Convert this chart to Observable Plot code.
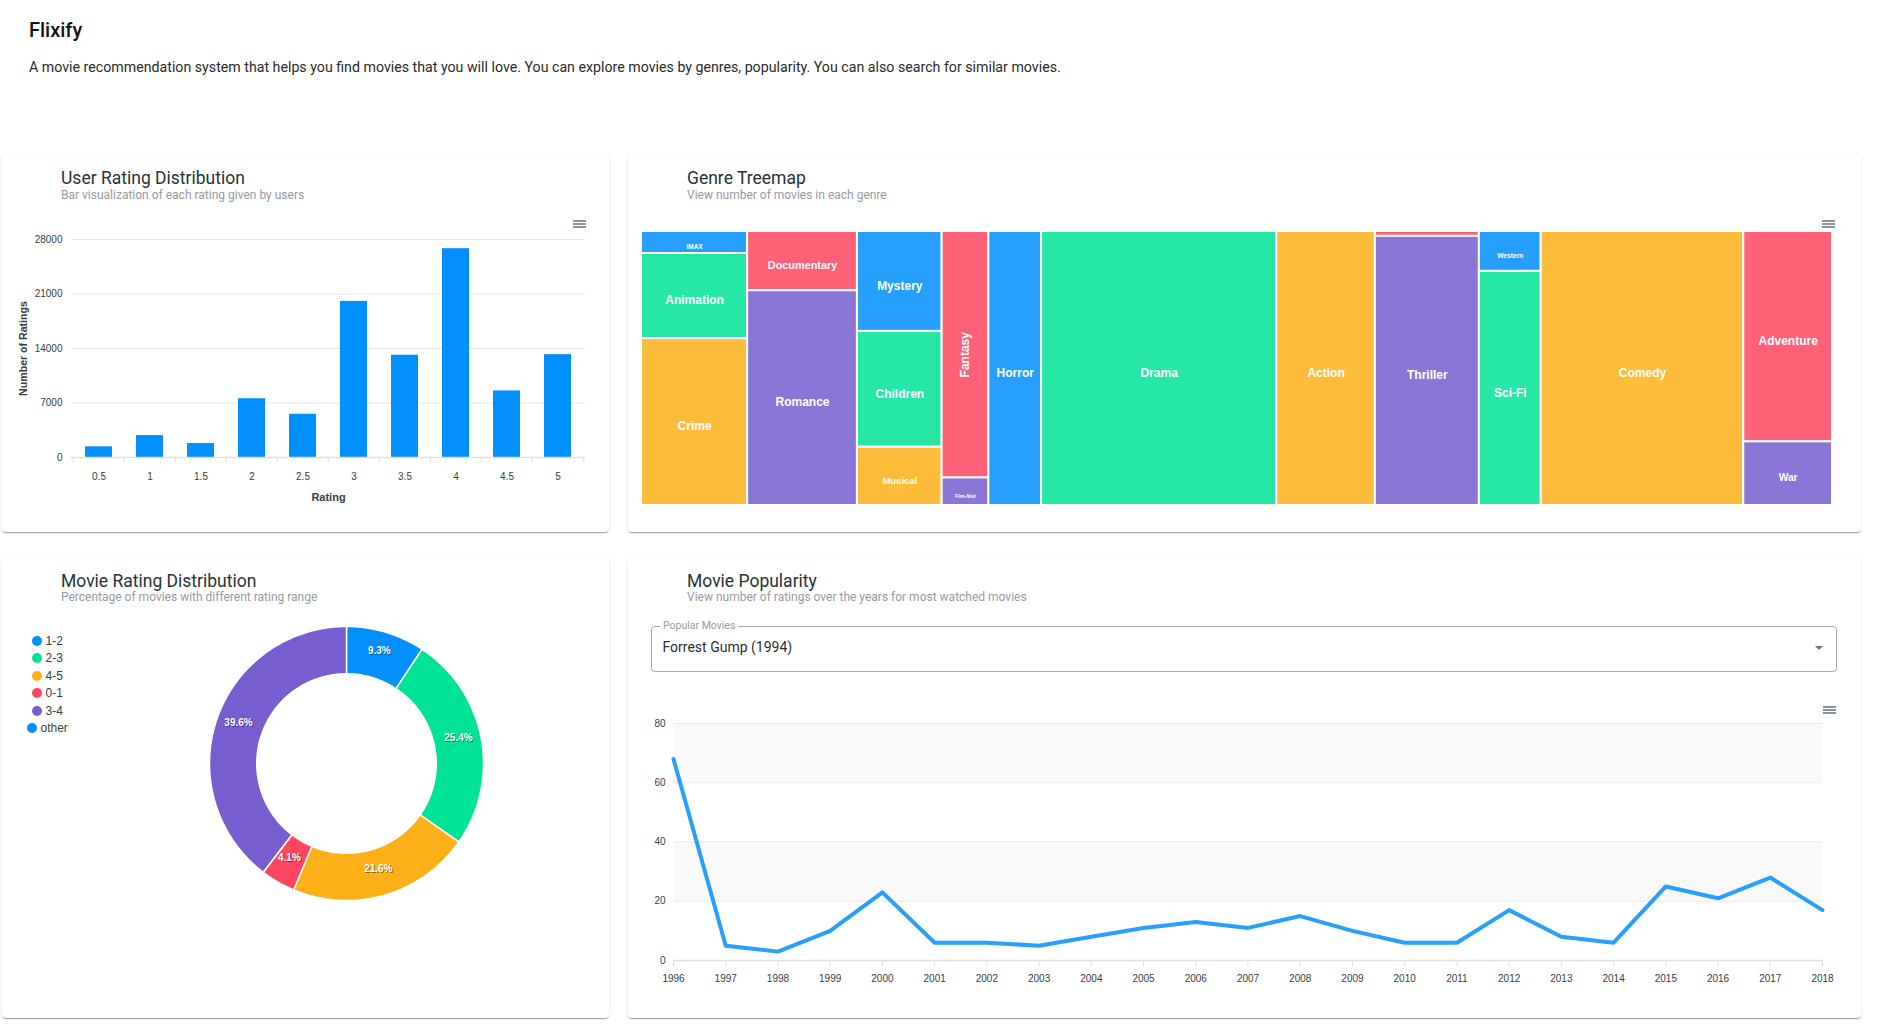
<!DOCTYPE html>
<html>
<head>
<meta charset="utf-8">
<script src="https://cdn.jsdelivr.net/npm/d3@7"></script>
<script src="https://cdn.jsdelivr.net/npm/@observablehq/plot@0.6"></script>
<style>
  html, body { margin: 0; padding: 0; background: #fff; }
  body { width: 1878px; height: 1033px; position: relative; overflow: hidden; font-family: Roboto, "Noto Sans", sans-serif; }
  .abs { position: absolute; white-space: nowrap; }
  .card { position: absolute; background: #fff; border-radius: 4px;
          box-shadow: 0px 2px 1px -1px rgba(0,0,0,0.2), 0px 1px 1px 0px rgba(0,0,0,0.14), 0px 1px 3px 0px rgba(0,0,0,0.12); }
  .h1 { font-size: 20px; font-weight: 500; color: #111; line-height: 24px; }
  .desc { font-size: 14.2px; color: #2a2a2a; line-height: 16px; }
  .ctitle { font-size: 17.5px; color: #263238; line-height: 20px; font-weight: 400; }
  .csub { font-size: 12px; color: #9699a2; line-height: 14px; }
  .menu { position: absolute; width: 13px; }
  .menu div { height: 1.6px; background: #8795a4; margin-bottom: 1.6px; }
  .legend-item { position: absolute; font-family: "Liberation Sans", Arial, Helvetica, sans-serif; font-size: 12px; color: #373d3f; line-height: 14px; }
  .legend-dot { position: absolute; width: 10px; height: 10px; border-radius: 50%; }
</style>
</head>
<body>
<script>
// ---------------- DATA ----------------
const ratingLabels = ["0.5", "1", "1.5", "2", "2.5", "3", "3.5", "4", "4.5", "5"];
const ratingCounts = [1370, 2811, 1791, 7551, 5550, 20047, 13136, 26818, 8551, 13211];
const ratingTicks = [0, 7000, 14000, 21000, 28000];

const genreNames = ["IMAX", "Animation", "Crime", "Documentary", "Romance", "Mystery", "Children", "Musical",
  "Fantasy", "Film-Noir", "Horror", "Drama", "Action", "(no genres listed)", "Thriller", "Western", "Sci-Fi",
  "Comedy", "Adventure", "War"];
const genreCounts = [158, 611, 1199, 440, 1596, 573, 664, 334, 779, 87, 978, 4361, 1828, 34, 1894, 167, 980, 3756, 1263, 382];
const genreColumn = [0, 0, 0, 1, 1, 2, 2, 2, 3, 3, 4, 5, 6, 7, 7, 8, 8, 9, 10, 10];

const ratingRanges = ["1-2", "2-3", "4-5", "0-1", "3-4", "other"];
const rangePercents = [9.3, 25.4, 21.6, 4.1, 39.6, 0];

const years = [1996, 1997, 1998, 1999, 2000, 2001, 2002, 2003, 2004, 2005, 2006, 2007, 2008, 2009, 2010, 2011,
  2012, 2013, 2014, 2015, 2016, 2017, 2018];
const yearRatings = [68, 5, 3, 10, 23, 6, 6, 5, 8, 11, 13, 11, 15, 10, 6, 6, 17, 8, 6, 25, 21, 28, 17];
const popularityTicks = [0, 20, 40, 60, 80];

const basePalette = ["#008FFB", "#00E396", "#FEB019", "#FF4560", "#775DD0"];
const treePalette = ["#26a0fc", "#26e7a6", "#febc3b", "#ff6178", "#8b75d7"];

// ---------------- HELPERS ----------------
const chartFont = '"Liberation Sans", Arial, Helvetica, sans-serif';
function el(tag, cls, x, y, text) {
  const e = document.createElement(tag);
  if (cls) e.className = cls;
  e.style.left = x + "px"; e.style.top = y + "px";
  if (text != null) e.textContent = text;
  document.body.appendChild(e);
  return e;
}
function card(x, y, w, h) {
  const c = el("div", "card", x, y);
  c.style.width = w + "px"; c.style.height = h + "px";
  return c;
}
function placeSvg(svg, x, y) {
  svg.style.position = "absolute";
  svg.style.left = x + "px"; svg.style.top = y + "px";
  document.body.appendChild(svg);
}
function menu(x, y) {
  const m = el("div", "menu", x, y);
  for (let k = 0; k < 3; k++) m.appendChild(document.createElement("div"));
}
const ctx = document.createElement("canvas").getContext("2d");
function textWidth(t, fs) { ctx.font = `bold ${fs}px ${chartFont}`; return ctx.measureText(t).width; }

// ---------------- PAGE TEXT + CARDS ----------------
el("div", "abs h1", 29, 17.5, "Flixify");
el("div", "abs desc", 29, 59, "A movie recommendation system that helps you find movies that you will love. You can explore movies by genres, popularity. You can also search for similar movies.");

card(2, 154, 607, 378);
card(628, 154, 1233, 378);
card(2, 558, 607, 460);
card(628, 558, 1233, 460);

el("div", "abs ctitle", 61, 168, "User Rating Distribution");
el("div", "abs csub", 61, 187.6, "Bar visualization of each rating given by users");
el("div", "abs ctitle", 687, 168, "Genre Treemap");
el("div", "abs csub", 687, 187.6, "View number of movies in each genre");
el("div", "abs ctitle", 61, 571, "Movie Rating Distribution");
el("div", "abs csub", 61, 589.6, "Percentage of movies with different rating range");
el("div", "abs ctitle", 687, 571, "Movie Popularity");
el("div", "abs csub", 687, 589.6, "View number of ratings over the years for most watched movies");

menu(573, 220);
menu(1822, 220);
menu(1823, 706);

// ---------------- BAR CHART ----------------
{
  const W = 607, H = 378, ml = 69, mr = 24, mt = 85, mb = 75;
  const step = (W - ml - mr) / ratingLabels.length;
  const data = ratingLabels.map((r, i) => ({rating: r, count: ratingCounts[i]}));
  const svg = Plot.plot({
    width: W, height: H, marginLeft: ml, marginRight: mr, marginTop: mt, marginBottom: mb,
    style: {background: "transparent", fontFamily: chartFont, fontSize: "10px", color: "#373d3f", overflow: "visible"},
    x: {type: "band", domain: ratingLabels, paddingInner: 0.475, paddingOuter: 0.2375, label: null},
    y: {domain: [0, ratingTicks[ratingTicks.length - 1]], label: null},
    marks: [
      Plot.ruleY(ratingTicks.slice(1), {stroke: "#e6e6e6"}),
      Plot.barY(data, {x: "rating", y: "count", fill: "#008FFB"}),
      Plot.ruleY([0], {stroke: "#e0e0e0", strokeWidth: 1.5}),
      Plot.ruleX(ratingLabels, {x: d => d, dx: -step / 2, insetTop: H - mt - mb, insetBottom: -6, stroke: "#e0e0e0"}),
      Plot.ruleX(ratingLabels.slice(-1), {x: d => d, dx: step / 2, insetTop: H - mt - mb, insetBottom: -6, stroke: "#e0e0e0"}),
      Plot.axisX({tickSize: 0, tickPadding: 15.5, label: null, fill: "#373d3f"}),
      Plot.axisY({ticks: ratingTicks, tickFormat: d => String(d), tickSize: 0, tickPadding: 9, label: null, fill: "#373d3f"}),
      Plot.text(["Rating"], {frameAnchor: "bottom", dy: 43, fontWeight: "bold", fontSize: 11, fill: "#373d3f"}),
      Plot.text(["Number of Ratings"], {frameAnchor: "left", textAnchor: "middle", dx: -48, rotate: -90, fontWeight: "bold", fontSize: 10.6, fill: "#373d3f"})
    ]
  });
  placeSvg(svg, 2, 154);
}

// ---------------- TREEMAP ----------------
{
  const W = 1233, H = 378, ml = 13, mr = 29, mt = 77, mb = 27;
  const TW = W - ml - mr, TH = H - mt - mb;
  const nCols = d3.max(genreColumn) + 1;
  const tree = {children: d3.range(nCols).map(c => ({
    children: genreNames.map((g, i) => ({i})).filter(d => genreColumn[d.i] === c)
  }))};
  const root = d3.hierarchy(tree).sum(d => d.i === undefined ? 0 : genreCounts[d.i]);
  d3.treemap().tile(d3.treemapSliceDice).size([TW, TH])(root);
  const avgLen = d3.mean(genreNames, g => g.length);
  const cells = root.leaves().map(n => {
    const i = n.data.i, w = n.x1 - n.x0, h = n.y1 - n.y0;
    const fs = Math.min(12, Math.sqrt(w * h) / avgLen);
    const tw = textWidth(genreNames[i], fs);
    const rot = (tw + 7 > w && tw <= h) ? -90 : 0;
    return {name: genreNames[i], x0: n.x0, x1: n.x1, y0: n.y0, y1: n.y1, color: treePalette[i % 5], fs, rot};
  });
  const shown = cells.filter(c => c.fs >= 4);
  const labelOpts = {
    x: d => (d.x0 + d.x1) / 2, y: d => (d.y0 + d.y1) / 2, text: "name",
    fill: "#fff", fontSize: d => d.fs, rotate: d => d.rot, fontWeight: "bold"
  };
  const svg = Plot.plot({
    width: W, height: H, marginLeft: ml, marginRight: mr, marginTop: mt, marginBottom: mb,
    style: {background: "transparent", fontFamily: chartFont, overflow: "visible"},
    x: {domain: [0, TW], axis: null},
    y: {domain: [0, TH], reverse: true, axis: null},
    color: {type: "identity"},
    marks: [
      Plot.rect(cells, {x1: "x0", x2: "x1", y1: "y0", y2: "y1", fill: d => d.color, stroke: "#fff", strokeWidth: 2}),
      Plot.text(shown.filter(c => c.rot === 0), {...labelOpts, dy: 4.5}),
      Plot.text(shown.filter(c => c.rot !== 0), labelOpts)
    ]
  });
  placeSvg(svg, 628, 154);
}

// ---------------- DONUT ----------------
{
  const W = 607, H = 460, ml = 207, mr = 126, mt = 68, mb = 118;
  const inner = 0.655;
  const arcs = d3.pie().sort(null).value(d => d)(rangePercents);
  const marks = [];
  arcs.forEach((a, i) => {
    if (a.endAngle - a.startAngle <= 0) return;
    const n = Math.max(2, Math.ceil((a.endAngle - a.startAngle) / (Math.PI / 180)));
    const pts = [];
    for (let k = 0; k <= n; k++) { const t = a.startAngle + (a.endAngle - a.startAngle) * k / n; pts.push([Math.sin(t), Math.cos(t)]); }
    for (let k = n; k >= 0; k--) { const t = a.startAngle + (a.endAngle - a.startAngle) * k / n; pts.push([inner * Math.sin(t), inner * Math.cos(t)]); }
    pts.push(pts[0]);
    marks.push(Plot.line(pts, {x: d => d[0], y: d => d[1], fill: basePalette[i % 5], stroke: "#fff", strokeWidth: 1.5, curve: "linear"}));
  });
  const labels = arcs.filter(a => a.value > 0).map(a => {
    const m = (a.startAngle + a.endAngle) / 2, r = 0.832;
    return {x: r * Math.sin(m), y: r * Math.cos(m), text: a.value.toFixed(1) + "%"};
  });
  marks.push(Plot.text(labels, {x: "x", y: "y", text: "text", dx: 1, dy: -3, fill: "#000", fillOpacity: 0.45, fontWeight: "bold", fontSize: 10}));
  marks.push(Plot.text(labels, {x: "x", y: "y", text: "text", dy: -4, fill: "#fff", fontWeight: "bold", fontSize: 10}));
  const svg = Plot.plot({
    width: W, height: H, marginLeft: ml, marginRight: mr, marginTop: mt, marginBottom: mb,
    style: {background: "transparent", fontFamily: chartFont, overflow: "visible"},
    x: {domain: [-1, 1], axis: null},
    y: {domain: [-1, 1], axis: null},
    marks
  });
  placeSvg(svg, 2, 558);

  // legend
  ratingRanges.forEach((r, i) => {
    const cy = 641 + i * 17.4;
    const off = r === "other" ? -5 : 0;
    const dot = el("div", "legend-dot", 32 + off, cy - 5);
    dot.style.background = basePalette[i % 5];
    el("div", "legend-item", 45.5 + off, cy - 7, r);
  });
}

// ---------------- DROPDOWN ----------------
{
  const box = el("div", "abs", 651, 626);
  box.style.width = "1184px"; box.style.height = "44px";
  box.style.border = "1px solid #a8a8a8"; box.style.borderRadius = "4px";
  const lab = el("div", "abs", 660, 619, "Popular Movies");
  lab.style.fontSize = "10.5px"; lab.style.color = "#9a9a9a"; lab.style.background = "#fff";
  lab.style.padding = "0 3px"; lab.style.lineHeight = "13px";
  const val = el("div", "abs", 662.5, 639, "Forrest Gump (1994)");
  val.style.fontSize = "14px"; val.style.color = "rgba(0,0,0,0.87)"; val.style.lineHeight = "16px";
  const arrow = el("div", "abs", 1815, 646);
  arrow.style.width = "0"; arrow.style.height = "0";
  arrow.style.borderLeft = "4px solid transparent"; arrow.style.borderRight = "4px solid transparent";
  arrow.style.borderTop = "4px solid #757575";
}

// ---------------- LINE CHART ----------------
{
  const W = 1233, H = 460, ml = 45, mr = 39, mt = 165, mb = 58;
  const data = years.map((y, i) => ({year: y, count: yearRatings[i]}));
  const bands = [];
  for (let k = popularityTicks.length - 2; k >= 0; k -= 2) bands.push([popularityTicks[k], popularityTicks[k + 1]]);
  const svg = Plot.plot({
    width: W, height: H, marginLeft: ml, marginRight: mr, marginTop: mt, marginBottom: mb,
    style: {background: "transparent", fontFamily: chartFont, fontSize: "10px", color: "#373d3f", overflow: "visible"},
    x: {domain: [years[0], years[years.length - 1]], label: null},
    y: {domain: [popularityTicks[0], popularityTicks[popularityTicks.length - 1]], label: null},
    marks: [
      Plot.rectY(bands, {y1: d => d[0], y2: d => d[1], fill: "#f3f3f3", fillOpacity: 0.5}),
      Plot.ruleY(popularityTicks.slice(1), {stroke: "#ebebeb"}),
      Plot.ruleY([0], {stroke: "#e0e0e0", strokeWidth: 1.5}),
      Plot.ruleX(years, {x: d => d, insetTop: H - mt - mb, insetBottom: -6, stroke: "#e0e0e0"}),
      Plot.axisX({ticks: years, tickFormat: d => String(d), tickSize: 0, tickPadding: 14.5, label: null, fill: "#373d3f"}),
      Plot.axisY({ticks: popularityTicks, tickSize: 0, tickPadding: 8, label: null, fill: "#373d3f"}),
      Plot.line(data, {x: "year", y: "count", stroke: "#26a0fc", strokeWidth: 4})
    ]
  });
  placeSvg(svg, 628, 558);
}
</script>
</body>
</html>
